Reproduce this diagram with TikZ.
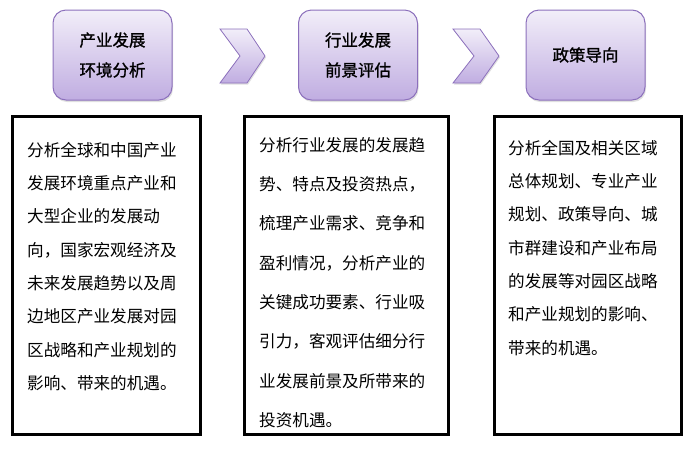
\documentclass[tikz,border=0pt]{standalone}
\usepackage{fontspec}
\newfontfamily\cjk{Noto Sans CJK SC}
\newfontfamily\cjkbold{Noto Sans CJK SC}[FakeBold=1.2]
\usetikzlibrary{shadows}
\definecolor{boxtop}{HTML}{F2EEF9}
\definecolor{boxbot}{HTML}{C0ADE1}
\definecolor{boxedge}{HTML}{8C70BC}
\tikzset{
  titlebox/.style={draw=boxedge, line width=1pt, rounded corners=13pt,
    top color=boxtop, bottom color=boxbot, minimum width=119pt, minimum height=90pt,
    inner sep=0pt, align=center, font=\cjkbold\fontsize{16.5}{30}\selectfont,
    drop shadow={shadow xshift=1pt, shadow yshift=-2pt, opacity=0.25}},
  chev/.style={draw=boxedge, line width=0.8pt, top color=boxtop, bottom color=boxbot,
    line join=miter, drop shadow={shadow xshift=1pt, shadow yshift=-1.5pt, opacity=0.25}},
  textbox/.style={draw=black, line width=3pt, fill=white,
    drop shadow={shadow xshift=1pt, shadow yshift=-1pt, opacity=0.3}},
  bodyline/.style={anchor=west, inner sep=0pt, font=\cjk\fontsize{16.6}{20}\selectfont}
}
\begin{document}
\begin{tikzpicture}[x=1pt,y=-1pt]
\useasboundingbox (0,0) rectangle (696,448);
% title boxes
\node[titlebox] (t1) at (112.5,55) {产业发展\\环境分析};
\node[titlebox] (t2) at (358,55) {行业发展\\前景评估};
\node[titlebox] (t3) at (585.5,55) {政策导向};
% chevrons
\path[chev] (220,29) -- (247,29) -- (265,56) -- (247,83) -- (220,83) -- (240,56) -- cycle;
\path[chev] (453,29) -- (480,29) -- (499,56) -- (480,83) -- (453,83) -- (474,56) -- cycle;
% text boxes
\path[textbox] (12.5,116.5) rectangle (200.5,434.5);
\path[textbox] (244.5,116.5) rectangle (448.5,434.5);
\path[textbox] (494.5,116.5) rectangle (681.5,434.5);
% box 1 text
\foreach \t [count=\i from 0] in {分析全球和中国产业,发展环境重点产业和,大型企业的发展动,向，国家宏观经济及,未来发展趋势以及周,边地区产业发展对园,区战略和产业规划的,影响、带来的机遇。}
  \node[bodyline] (a\i) at (27,150+33.3*\i) {\t};
% box 2 text
\foreach \t [count=\i from 0] in {分析行业发展的发展趋,势、特点及投资热点，,梳理产业需求、竞争和,盈利情况，分析产业的,关键成功要素、行业吸,引力，客观评估细分行,业发展前景及所带来的,投资机遇。}
  \node[bodyline] (b\i) at (259,145+39.3*\i) {\t};
% box 3 text
\foreach \t [count=\i from 0] in {分析全国及相关区域,总体规划、专业产业,规划、政策导向、城,市群建设和产业布局,的发展等对园区战略,和产业规划的影响、,带来的机遇。}
  \node[bodyline] (c\i) at (508,148+33.3*\i) {\t};
\end{tikzpicture}
\end{document}
